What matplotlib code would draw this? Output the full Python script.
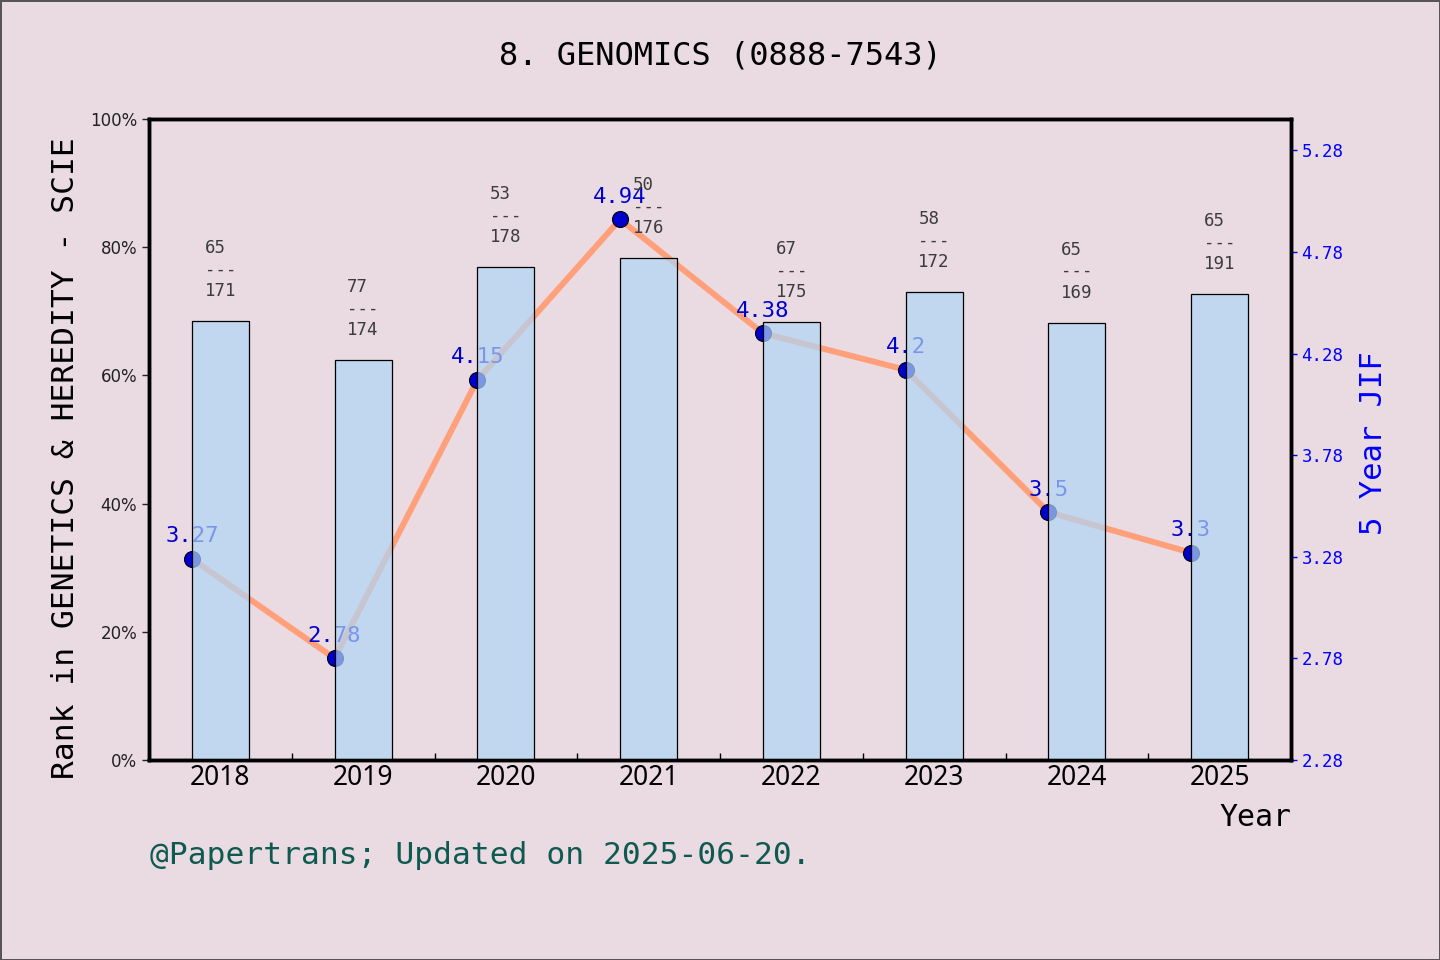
import matplotlib.pyplot as plt
from matplotlib.ticker import PercentFormatter, FixedLocator

# data
years = ['2018', '2019', '2020', '2021', '2022', '2023', '2024', '2025']
rank_pct = [0.685, 0.624, 0.769, 0.783, 0.683, 0.730, 0.682, 0.727]
rank_num = [65, 77, 53, 50, 67, 58, 65, 65]
rank_total = [171, 174, 178, 176, 175, 172, 169, 191]
jif5 = [3.27, 2.78, 4.15, 4.94, 4.38, 4.2, 3.5, 3.3]

mono = 'DejaVu Sans Mono'
bg = '#eadae2'

fig = plt.figure(figsize=(14.4, 9.6), dpi=100, facecolor=bg)
fig.patch.set_edgecolor('#555555')
fig.patch.set_linewidth(2)

# bars axes (left ticks) sits on top of the line axes
ax = fig.add_axes([149/1440, 1-760/960, 1142/1440, 641/960])
ax2 = ax.twinx()
ax.set_zorder(2)
ax2.set_zorder(1)
ax.patch.set_visible(False)
ax2.set_facecolor('white')

x = list(range(len(years)))

# line for 5 year JIF, shifted to the left edge of each bar
xl = [i - 0.2 for i in x]
ax2.plot(xl, jif5, color='#ffa07a', lw=4.3, zorder=2)
ax2.plot(xl, jif5, 'o', color='mediumblue', mec='black', mew=0.8, ms=11.5, zorder=3)
for xi, v in zip(xl, jif5):
    ax2.annotate(f'{v:g}', (xi, v), xytext=(0, 9), textcoords='offset points',
                 ha='center', va='bottom', color='mediumblue', fontsize=16, family=mono)

ax2.set_ylim(2.28, max(jif5) * 1.1)
ax2.yaxis.set_major_locator(FixedLocator([2.28 + 0.5 * k for k in range(7)]))
ax2.yaxis.set_major_formatter(lambda v, p: f'{v:.2f}')
ax2.tick_params(axis='y', colors='blue', labelsize=12.5, length=4, width=1)
for t in ax2.get_yticklabels():
    t.set_family(mono)

# rank bars
ax.bar(x, rank_pct, width=0.4, color=(0.69, 0.84, 0.965, 0.7), edgecolor='black', lw=0.9)
for i, p in enumerate(rank_pct):
    ax.text(i, p + 0.033, f'{rank_num[i]}\n---\n{rank_total[i]}', ha='center', va='bottom',
            multialignment='left', fontsize=12.5, color='#3c3c3c', linespacing=1.25,
            family=mono)

ax.set_xlim(-0.5, 7.5)
ax.set_ylim(0, 1)
ax.yaxis.set_major_locator(FixedLocator([0, 0.2, 0.4, 0.6, 0.8, 1.0]))
ax.yaxis.set_major_formatter(PercentFormatter(1.0, decimals=0))
ax.tick_params(axis='y', labelsize=12, colors='#222222', length=5, width=1)
ax.set_xticks(x)
ax.set_xticklabels(years, fontsize=19, family='Noto Sans')
ax.set_xticks([i + 0.5 for i in x[:-1]], minor=True)
ax.tick_params(axis='x', which='major', length=0, pad=3)
ax.tick_params(axis='x', which='minor', direction='in', length=5, width=1)

for a in (ax, ax2):
    for s in a.spines.values():
        s.set_linewidth(2.5)
        s.set_color('black')

ax.text(1.0, -0.089, 'Year', transform=ax.transAxes, ha='right', va='center',
        fontsize=21.5, family=mono)

fig.text(0.5, 1-56/960, '8. GENOMICS (0888-7543)', ha='center', va='center',
         fontsize=23, family=mono)
fig.text(66/1440, 1-458/960, 'Rank in GENETICS & HEREDITY - SCIE', rotation=90,
         ha='center', va='center', fontsize=22.5, family=mono)
fig.text(1373/1440, 1-443/960, '5 Year JIF', rotation=90, ha='center', va='center',
         fontsize=22, family=mono, color='blue')
fig.text(150/1440, 1-855/960, '@Papertrans; Updated on 2025-06-20.', ha='left', va='center',
         fontsize=22.5, family=mono, color='#0f5a50')

fig.savefig('out.png', dpi=100, facecolor=bg, edgecolor='#555555')
